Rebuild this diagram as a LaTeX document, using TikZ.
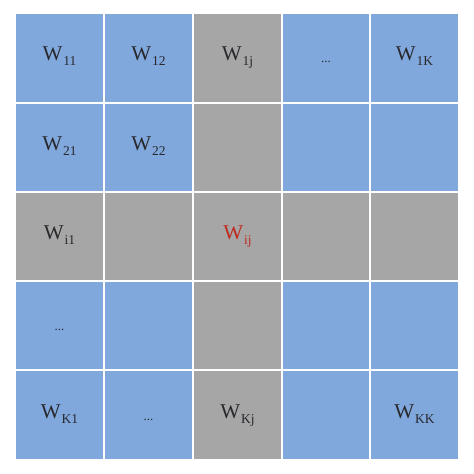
\documentclass[tikz,border=0pt]{standalone}
\usepackage{fontspec}
\setmainfont{Liberation Serif}
\definecolor{cellblue}{RGB}{128,168,221}
\definecolor{cellgray}{RGB}{166,166,166}
\definecolor{txt}{RGB}{40,40,45}
\definecolor{txtred}{RGB}{192,40,30}
\newcommand\Wsub[1]{W\kern1pt\raisebox{-5pt}{\fontsize{13.5}{13.5}\selectfont #1}}
\newcommand\Dots{\raisebox{-2pt}{\fontsize{13}{13}\selectfont ...}}
\begin{document}
\begin{tikzpicture}[x=1pt,y=-1pt,
  bluecell/.style={fill=cellblue,draw=none},
  graycell/.style={fill=cellgray,draw=none},
  lbl/.style={anchor=base,inner sep=0pt,text=txt,font=\fontsize{21}{21}\selectfont},
  redlbl/.style={lbl,text=txtred}]
\useasboundingbox (0,0) rectangle (474,474);
\fill[white] (0,0) rectangle (474,474);
% column edges and row edges
\def\cl{{16,105,194,283,371}}
\def\cr{{103,192,281,369,458}}
\def\rt{{14,103.5,193,282,371}}
\def\rb{{101.5,191,280,369,459}}
\foreach \i in {0,...,4}{
  \foreach \j in {0,...,4}{
    \pgfmathsetmacro\xa{\cl[\j]}
    \pgfmathsetmacro\xb{\cr[\j]}
    \pgfmathsetmacro\ya{\rt[\i]}
    \pgfmathsetmacro\yb{\rb[\i]}
    \ifnum\i=2 \def\st{graycell}\else\ifnum\j=2 \def\st{graycell}\else\def\st{bluecell}\fi\fi
    \path[\st] (\xa,\ya) rectangle (\xb,\yb);
    \coordinate (c\i\j) at ({(\xa+\xb)/2},{(\ya+\yb)/2+3});
  }
}
\node[lbl] (t11) at (c00) {\Wsub{11}};
\node[lbl] (t12) at (c01) {\Wsub{12}};
\node[lbl] (t1j) at (c02) {\Wsub{1j}};
\node[lbl] (t1d) at (c03) {\Dots};
\node[lbl] (t1K) at (c04) {\Wsub{1K}};
\node[lbl] (t21) at (c10) {\Wsub{21}};
\node[lbl] (t22) at (c11) {\Wsub{22}};
\node[lbl] (ti1) at (c20) {\Wsub{i1}};
\node[redlbl] (tij) at (c22) {\Wsub{ij}};
\node[lbl] (t4d) at (c30) {\Dots};
\node[lbl] (tK1) at (c40) {\Wsub{K1}};
\node[lbl] (tKd) at (c41) {\Dots};
\node[lbl] (tKj) at (c42) {\Wsub{Kj}};
\node[lbl] (tKK) at (c44) {\Wsub{KK}};
\end{tikzpicture}
\end{document}
